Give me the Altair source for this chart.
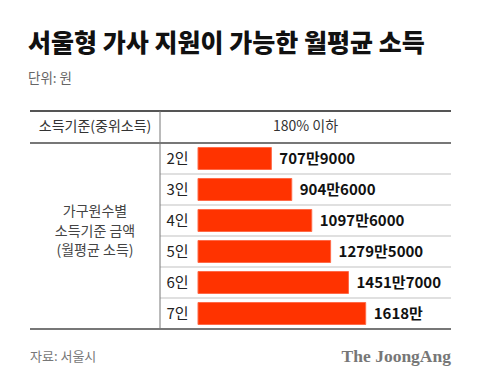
import altair as alt
import pandas as pd

# ---- data ----
households = ["2인", "3인", "4인", "5인", "6인", "7인"]
values = [707.9, 904.6, 1097.6, 1279.5, 1451.7, 1618.0]   # 만원
value_labels = ["707만9000", "904만6000", "1097만6000", "1279만5000", "1451만7000", "1618만"]

title_text = "서울형 가사 지원이 가능한 월평균 소득"
unit_text = "단위: 원"
header_left = "소득기준(중위소득)"
header_right = "180% 이하"
side_lines = ["가구원수별", "소득기준 금액", "(월평균 소득)"]
source_text = "자료: 서울시"
brand_text = "The JoongAng"

df = pd.DataFrame({"household": households, "value": values, "label": value_labels})

FONT = "Noto Sans CJK KR"
one = alt.Data(values=[{"a": 1}])

yscale = alt.Scale(domain=households, range=[135, 321], paddingInner=0.29, paddingOuter=0.145)
xscale = alt.Scale(domain=[0, 1618], range=[190, 357.7])

base = alt.Chart(df)

bars = base.mark_bar(color="#FF3300", stroke="#FF6A48", strokeWidth=1).encode(
    x=alt.X("value:Q", scale=xscale, axis=None),
    y=alt.Y("household:N", scale=yscale, axis=None),
)

val_text = base.mark_text(align="left", baseline="middle", dx=8, font=FONT,
                          fontWeight="bold", fontSize=15, color="#111").encode(
    x=alt.X("value:Q", scale=xscale, axis=None),
    y=alt.Y("household:N", scale=yscale, axis=None),
    text="label:N",
)

row_text = base.mark_text(align="center", baseline="middle", font=FONT,
                          fontSize=15, color="#222").encode(
    x=alt.value(169.5),
    y=alt.Y("household:N", scale=yscale, axis=None),
    text="household:N",
)


def rule(x1, x2, y1, y2, color, width):
    return alt.Chart(one).mark_rule(color=color, strokeWidth=width).encode(
        x=alt.value(x1), x2=alt.value(x2), y=alt.value(y1), y2=alt.value(y2))


def label(txt, x, y, size, color, weight="normal", align="left", font=FONT):
    return alt.Chart(one).mark_text(text=txt, align=align, baseline="middle", font=font,
                                    fontSize=size, color=color, fontWeight=weight).encode(
        x=alt.value(x), y=alt.value(y))


layers = []
# separators
for yy in [166, 197, 228, 259, 290]:
    layers.append(rule(152, 443, yy, yy, "#E0E0E0", 2))
layers.append(rule(22, 443, 103, 103, "#555555", 2))
layers.append(rule(22, 443, 135, 135, "#777777", 2))
layers.append(rule(22, 443, 321, 321, "#777777", 2))
layers.append(rule(152, 152, 103, 321, "#777777", 1))

layers += [bars, val_text, row_text]

layers.append(label(title_text, 20, 36, 25, "#111111", weight=900))
layers.append(label(unit_text, 20, 71, 13.5, "#666666"))
layers.append(label(header_left, 87, 119, 14, "#333333", align="center"))
layers.append(label(header_right, 297.5, 119, 14, "#333333", align="center"))
for i, t in enumerate(side_lines):
    layers.append(label(t, 87, 204 + i * 19.5, 14, "#444444", align="center"))
layers.append(label(source_text, 22, 349, 13, "#777777"))
layers.append(label(brand_text, 443, 349, 17.5, "#777777", weight="bold", align="right",
                    font="Liberation Serif"))

chart = alt.layer(*layers).properties(
    width=464, height=368, padding=0,
    autosize=alt.AutoSizeParams(type="none"),
    background="white",
).configure_view(stroke=None)

chart.save("out.html", embed_options={"renderer": "svg", "actions": False})
